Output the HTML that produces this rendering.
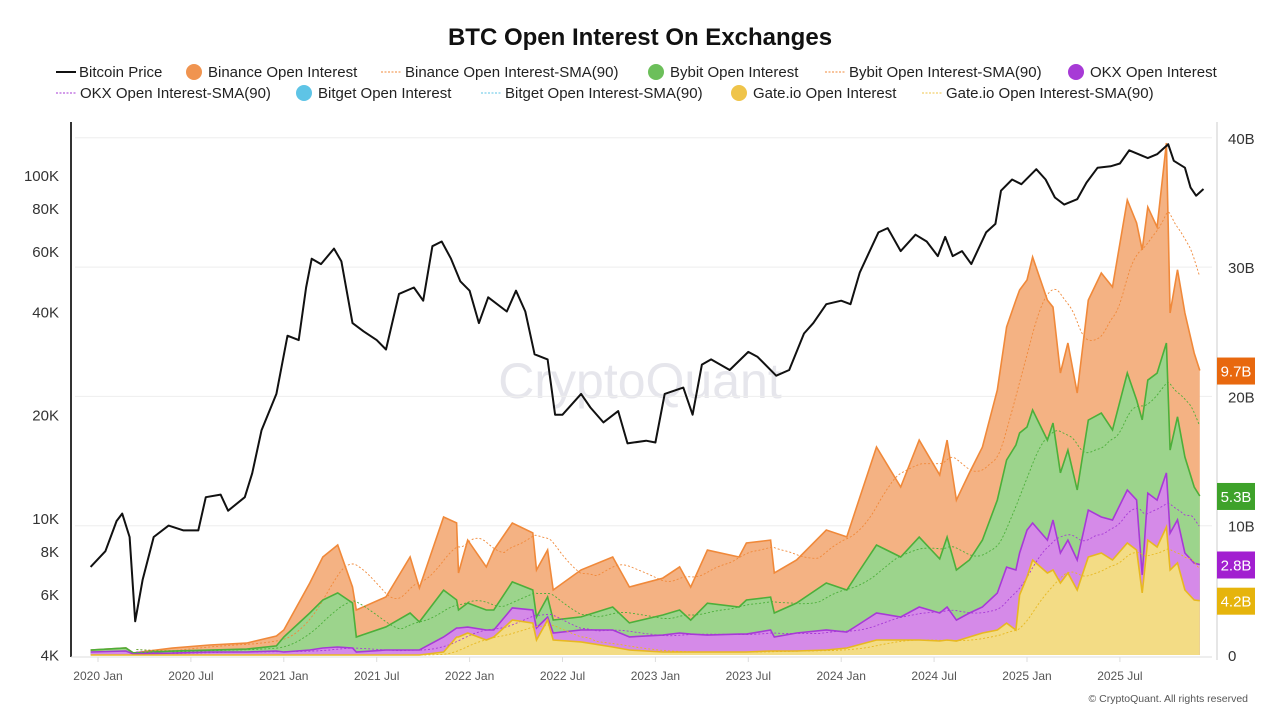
<!DOCTYPE html>
<html><head><meta charset="utf-8"><style>
body{margin:0;background:#fff;width:1280px;height:720px;overflow:hidden;font-family:"Liberation Sans",sans-serif}
svg{position:absolute;left:0;top:0}
</style></head><body>
<svg id="chart" width="1280" height="720">
<text x="640" y="45" text-anchor="middle" font-size="24" font-weight="bold" fill="#111">BTC Open Interest On Exchanges</text>
<text x="640" y="398" text-anchor="middle" font-size="50" fill="#e6e6ec">CryptoQuant</text>
<g id="legend" font-size="15" fill="#222"></g>
<g id="grid"></g><g id="areas"></g><g id="lines"></g><g id="axes"></g>
<text x="1248" y="702" text-anchor="end" font-size="10.5" fill="#555">© CryptoQuant. All rights reserved</text>
</svg>
<script>
const times=[2019.96,2020.15,2020.19,2020.4,2020.6,2020.8,2020.96,2021.0,2021.14,2021.21,2021.29,2021.37,2021.39,2021.55,2021.68,2021.73,2021.86,2021.93,2021.94,2021.99,2022.09,2022.13,2022.23,2022.34,2022.36,2022.42,2022.45,2022.6,2022.77,2022.86,2023.04,2023.13,2023.19,2023.28,2023.45,2023.49,2023.62,2023.64,2023.76,2023.92,2024.03,2024.09,2024.19,2024.32,2024.42,2024.53,2024.57,2024.62,2024.69,2024.76,2024.84,2024.89,2024.94,2024.96,2025.0,2025.03,2025.11,2025.14,2025.18,2025.22,2025.27,2025.33,2025.4,2025.46,2025.54,2025.59,2025.62,2025.65,2025.7,2025.75,2025.77,2025.81,2025.85,2025.9,2025.93];
const gateOI=[0,0,0,0,0,0,0,0,0,0,0,0,0,0,0,0,.23,1.39,1.39,1.70,1.16,1.39,2.71,2.47,1.16,2.71,1.16,1.01,.62,.39,.23,.23,.23,.23,.23,.23,.31,.31,.31,.39,.54,.77,1.16,1.16,1.16,1.08,1.16,1.08,1.39,1.70,1.93,2.47,1.93,4.64,6.03,7.35,6.34,6.57,5.57,6.34,5.03,7.58,7.89,7.35,8.66,8.12,4.80,8.89,8.35,9.90,6.57,7.12,5.03,4.25,4.2];
const okxOI=[.23,.31,.08,.15,.23,.23,.31,.23,.39,.54,.62,.54,.23,.39,.39,.39,1.16,.70,.70,.46,.77,.54,.93,1.01,.93,.23,.54,.93,1.31,1.01,1.31,1.47,1.39,1.31,1.39,1.39,1.62,1.08,1.39,1.55,1.24,1.55,2.09,1.78,2.55,2.17,2.55,1.62,1.86,2.01,2.86,4.33,4.64,3.25,3.63,2.86,2.55,3.87,2.32,2.55,2.32,3.63,2.78,3.09,4.10,3.87,1.39,3.63,3.63,4.18,2.86,3.33,2.86,2.86,2.8];
const bybitOI=[.15,.23,.08,.15,.15,.23,.39,1.16,2.86,3.71,4.18,3.48,1.16,1.78,2.86,2.17,3.63,2.17,1.39,1.86,1.55,1.55,2.01,1.55,.85,1.55,1.01,1.01,1.78,1.08,1.55,1.78,1.08,2.47,2.09,2.63,2.55,1.86,2.32,3.63,3.25,4.02,5.26,4.64,5.41,4.18,5.41,3.87,4.10,5.18,7.19,8.28,9.67,9.28,7.97,8.74,7.73,7.50,6.19,6.96,5.41,6.96,8.04,6.96,9.05,7.73,11.99,8.74,9.82,10.05,6.42,7.97,7.42,5.88,5.3];
const binanceOI=[0,0,0,.23,.39,.46,.77,.54,2.32,3.33,3.71,1.24,2.09,2.32,4.33,2.63,5.65,5.96,2.86,4.87,3.33,4.64,4.56,4.41,3.63,3.63,2.32,3.63,3.87,2.78,2.86,3.33,2.55,4.10,3.87,4.41,4.41,3.09,3.33,4.10,4.10,5.41,7.58,5.41,7.50,6.50,7.50,5.41,6.73,7.19,8.51,10.29,11.21,11.06,11.37,11.83,10.83,8.97,7.73,8.28,7.50,9.28,10.83,11.06,13.38,13.69,13.15,13.38,11.29,15.47,10.60,11.37,11.14,10.36,9.7];
const priceTimes=[2019.96,2020.04,2020.10,2020.13,2020.17,2020.20,2020.24,2020.30,2020.38,2020.46,2020.54,2020.58,2020.66,2020.70,2020.79,2020.83,2020.88,2020.96,2021.02,2021.08,2021.12,2021.15,2021.2,2021.27,2021.31,2021.37,2021.43,2021.5,2021.55,2021.62,2021.7,2021.75,2021.8,2021.85,2021.9,2021.95,2022.0,2022.05,2022.1,2022.2,2022.25,2022.3,2022.35,2022.42,2022.46,2022.5,2022.6,2022.65,2022.72,2022.8,2022.85,2022.95,2023.0,2023.05,2023.15,2023.2,2023.25,2023.3,2023.4,2023.5,2023.55,2023.65,2023.72,2023.8,2023.85,2023.92,2024.0,2024.05,2024.1,2024.2,2024.25,2024.32,2024.4,2024.46,2024.52,2024.56,2024.6,2024.65,2024.7,2024.78,2024.83,2024.86,2024.92,2024.97,2025.05,2025.1,2025.15,2025.2,2025.27,2025.32,2025.38,2025.45,2025.5,2025.55,2025.6,2025.65,2025.7,2025.76,2025.79,2025.85,2025.88,2025.91,2025.95];
const priceK=[7.2,8.0,9.8,10.3,8.8,5.0,6.6,8.8,9.5,9.2,9.2,11.5,11.7,10.5,11.5,13.5,18,23,34,33,47,57,55,61,56,37,35,33,31,45,47,43,62,64,57,49,46,37,44,40,46,40,30,29,20,20,23,21,19,20.5,16.5,16.8,16.6,23,24,20,28,29,27,30.5,29.5,26,27,34.5,37,42,43,42,52,68,70,60,67,64,58,66,58,60,55,68,72,90,97,94,104,97,86,82,85,95,105,106,108,118,115,112,115,123,110,105,92,87,91];
const leftTicks=[4,6,8,10,20,40,60,80,100];
const leftTickLabels=["4K","6K","8K","10K","20K","40K","60K","80K","100K"];
const rightTicks=[0,10,20,30,40];
const rightTickLabels=["0","10B","20B","30B","40B"];
const xTickLabels=["2020 Jan","2020 Jul","2021 Jan","2021 Jul","2022 Jan","2022 Jul","2023 Jan","2023 Jul","2024 Jan","2024 Jul","2025 Jan","2025 Jul"];
const xTickTimes=[2020,2020.5,2021,2021.5,2022,2022.5,2023,2023.5,2024,2024.5,2025,2025.5];

const NS="http://www.w3.org/2000/svg";
const X=t=>98+(t-2020)*185.8;
const YR=v=>655-v*12.93;
const YL=p=>518-343*Math.log10(p/10);
function mk(tag,attrs,parent,text){const e=document.createElementNS(NS,tag);for(const k in attrs)e.setAttribute(k,attrs[k]);if(text!==undefined)e.textContent=text;parent.appendChild(e);return e;}
const grid=document.getElementById('grid'),areas=document.getElementById('areas'),lines=document.getElementById('lines'),axes=document.getElementById('axes'),legend=document.getElementById('legend');

rightTicks.forEach((v,i)=>{if(v>0){const g=mk('line',{x1:75,x2:1212,y1:YR(v),y2:YR(v),stroke:'#eeeeee','stroke-width':1},grid);}
const t=mk('text',{x:1228,y:YR(v)+6,'font-size':15,fill:'#333'},axes,rightTickLabels[i]);});
leftTicks.forEach((v,i)=>{const t=mk('text',{x:59,y:YL(v)+6,'font-size':15,fill:'#333','text-anchor':'end'},axes,leftTickLabels[i]);});
xTickTimes.forEach((t,i)=>{const l=mk('text',{x:X(t),y:680,'font-size':12,fill:'#555','text-anchor':'middle'},axes,xTickLabels[i]);
mk('line',{x1:X(t),x2:X(t),y1:657,y2:662,stroke:'#ddd'},axes);});
mk('line',{x1:71,x2:71,y1:122,y2:657,stroke:'#333','stroke-width':2},axes);
mk('line',{x1:1217,x2:1217,y1:122,y2:660,stroke:'#ddd','stroke-width':1.5},axes);
mk('line',{x1:71,x2:1212,y1:657,y2:657,stroke:'#ddd','stroke-width':1},axes);

const series=[gateOI,okxOI,bybitOI,binanceOI];
const cum=[];let acc=times.map(()=>0);
series.forEach(s=>{acc=acc.map((a,i)=>a+s[i]);cum.push(acc.slice());});
const fills=['#f3dc85','#d58ae8','#9cd48c','#f4b283'];
const strokes=['#e8b820','#a73ad6','#4caf3a','#f0893a'];
const names=['gate','okx','bybit','binance'];
for(let k=3;k>=0;k--){
 let d='M'+X(times[0])+','+YR(0);
 times.forEach((t,i)=>{d+=' L'+X(t).toFixed(1)+','+YR(cum[k][i]).toFixed(1);});
 d+=' L'+X(times[times.length-1])+','+YR(0)+'Z';
 const a=mk('path',{d:d,fill:fills[k],stroke:'none'},areas);
 
 
}
for(let k=3;k>=0;k--){
 const pts=times.map((t,i)=>X(t).toFixed(1)+','+YR(cum[k][i]).toFixed(1)).join(' ');
 const l=mk('polyline',{points:pts,fill:'none',stroke:strokes[k],'stroke-width':1.6},lines);
 
 
 const interp=t=>{if(t<=times[0])return cum[k][0];for(let i=1;i<times.length;i++){if(t<=times[i]){const f=(t-times[i-1])/(times[i]-times[i-1]);return cum[k][i-1]+f*(cum[k][i]-cum[k][i-1]);}}return cum[k][times.length-1];};
 const sp=[];const w=0.2466;
 for(let t=times[0]+w;t<=times[times.length-1]+1e-6;t+=0.01){let s=0,n=0;for(let u=t-w;u<=t;u+=0.005){s+=interp(u);n++;}sp.push(X(t).toFixed(1)+','+YR(s/n).toFixed(1));}
 const m=mk('polyline',{points:sp.join(' '),fill:'none',stroke:strokes[k],'stroke-width':0.9,'stroke-dasharray':'2,2'},lines);
 
 
}
const pp=priceTimes.map((t,i)=>X(t).toFixed(1)+','+YL(priceK[i]).toFixed(1)).join(' ');
const pl=mk('polyline',{points:pp,fill:'none',stroke:'#111','stroke-width':2,'stroke-linejoin':'round'},lines);



const last=times.length-1;
const tagVals=[binanceOI[last],bybitOI[last],okxOI[last],gateOI[last]];
const tagY=[cum[3][last],cum[2][last],cum[1][last],cum[0][last]];
const tagCol=['#e8680e','#3ea22a','#a21fd0','#e6b40c'];
const tagNames=['binance','bybit','okx','gate'];
tagVals.forEach((v,i)=>{let y=YR(tagY[i]);if(i==3)y=Math.max(y,YR(tagY[2])+32);
 const r=mk('rect',{x:1217,y:y-13,width:38,height:27,fill:tagCol[i]},axes);
 
 
 mk('text',{x:1236,y:y+6,'font-size':15,fill:'#fff','text-anchor':'middle'},axes,v.toFixed(1)+'B');});

const items=[
 ['line','#111','Bitcoin Price',56,72],['dot','#f09450','Binance Open Interest',186,72],['dash','#f0893a','Binance Open Interest-SMA(90)',381,72],
 ['dot','#6cbf5a','Bybit Open Interest',648,72],['dash','#f0893a','Bybit Open Interest-SMA(90)',825,72],['dot','#a73ad6','OKX Open Interest',1068,72],
 ['dash','#a73ad6','OKX Open Interest-SMA(90)',56,93],['dot','#5ec4e6','Bitget Open Interest',296,93],['dash','#5ec4e6','Bitget Open Interest-SMA(90)',481,93],
 ['dot','#efc44a','Gate.io Open Interest',731,93],['dash','#efc44a','Gate.io Open Interest-SMA(90)',922,93]];
items.forEach(it=>{const [type,c,label,x,y]=it;
 const g=mk('g',{},legend);
 
 
 let tx;
 if(type==='line'){mk('line',{x1:x,x2:x+20,y1:y,y2:y,stroke:c,'stroke-width':2},g);tx=x+23;}
 else if(type==='dot'){mk('circle',{cx:x+8,cy:y,r:8,fill:c},g);tx=x+22;}
 else {mk('line',{x1:x,x2:x+20,y1:y,y2:y,stroke:c,'stroke-width':1,'stroke-dasharray':'2,1.5'},g);tx=x+24;}
 mk('text',{x:tx,y:y+5},g,label);});
</script>
</body></html>
